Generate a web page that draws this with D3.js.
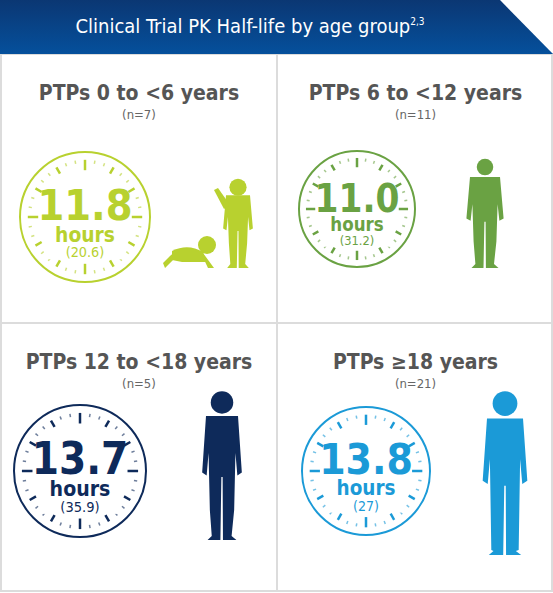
<!DOCTYPE html>
<html><head><meta charset="utf-8">
<script src="https://cdn.jsdelivr.net/npm/d3@7"></script>
<style>body{margin:0;background:#fff} text{font-stretch:condensed}</style>
</head><body>
<svg id="chart" width="553" height="593"></svg>
<script>
const groups = ["PTPs 0 to <6 years", "PTPs 6 to <12 years", "PTPs 12 to <18 years", "PTPs ≥18 years"];
const counts = [7, 11, 5, 21];
const halfLife = ["11.8", "11.0", "13.7", "13.8"];
const cv = ["20.6", "31.2", "35.9", "27"];
const colors = ["#b8d12f", "#6aa243", "#0e2a5a", "#1b9ad7"];
const font = "'DejaVu Sans', sans-serif";

const svg = d3.select("#chart");
const defs = svg.append("defs");
const grad = defs.append("linearGradient").attr("id", "hdr").attr("x1", 0).attr("y1", 0).attr("x2", 0).attr("y2", 1);
grad.append("stop").attr("offset", 0).attr("stop-color", "#0b3773");
grad.append("stop").attr("offset", 1).attr("stop-color", "#05509c");

// panel grid
const col = d3.scaleBand().domain([0, 1]).range([0, 553]);
const row = d3.scaleBand().domain([0, 1]).range([54, 592]);
svg.append("rect").attr("x", 1).attr("y", 54).attr("width", 551).attr("height", 537)
  .attr("fill", "none").attr("stroke", "#dcdcdc").attr("stroke-width", 2);
svg.append("line").attr("x1", 277).attr("x2", 277).attr("y1", 54).attr("y2", 591).attr("stroke", "#dcdcdc").attr("stroke-width", 2);
svg.append("line").attr("x1", 0).attr("x2", 553).attr("y1", 323).attr("y2", 323).attr("stroke", "#dcdcdc").attr("stroke-width", 2);

// header
svg.append("path").attr("d", "M0,0 H500 L553,54 H0 Z").attr("fill", "url(#hdr)");
const ht = svg.append("text").attr("x", 250).attr("y", 33).attr("text-anchor", "middle")
  .attr("fill", "#fff").style("font-family", font).style("font-size", "20px");
ht.append("tspan").text("Clinical Trial PK Half-life by age group");
ht.append("tspan").attr("dy", -8).style("font-size", "10px").text("2,3");

const clockPos = [[85, 217, 65], [357, 209, 58], [80, 471, 66], [366, 471, 64]];
const figures = [
  ["crawl", 212, 265], ["child", 485, 268], ["teen", 222, 540], ["adult", 505, 555]
];

// simple silhouette path built from body proportions
function person(x, base, h, w, shortsLen) {
  const head = h * 0.075, top = base - h;
  const p = d3.path();
  p.moveTo(x - w * 0.5, top + head * 2.3);
  p.lineTo(x + w * 0.5, top + head * 2.3);
  p.lineTo(x + w * 0.62, top + h * 0.55);
  p.lineTo(x + w * 0.48, top + h * 0.57);
  p.lineTo(x + w * 0.42, top + h * 0.42);
  p.lineTo(x + w * 0.38, top + h * shortsLen);
  p.lineTo(x + w * 0.3, base - 4);
  p.lineTo(x + w * 0.45, base);
  p.lineTo(x + w * 0.03, base);
  p.lineTo(x + w * 0.02, top + h * 0.58);
  p.lineTo(x - w * 0.02, top + h * 0.58);
  p.lineTo(x - w * 0.05, base);
  p.lineTo(x - w * 0.45, base);
  p.lineTo(x - w * 0.32, base - 4);
  p.lineTo(x - w * 0.38, top + h * shortsLen);
  p.lineTo(x - w * 0.42, top + h * 0.42);
  p.lineTo(x - w * 0.48, top + h * 0.57);
  p.lineTo(x - w * 0.62, top + h * 0.55);
  p.closePath();
  return { d: p.toString(), hx: x, hy: top + head * 1.1, hr: head };
}

groups.forEach((g, i) => {
  const cx0 = col(i % 2), cy0 = row(Math.floor(i / 2));
  const c = colors[i];
  const panel = svg.append("g");
  panel.append("text").attr("x", cx0 + 139).attr("y", cy0 + 46).attr("text-anchor", "middle")
    .attr("fill", "#555").style("font-family", font).style("font-weight", "bold").style("font-size", "21px").text(g);
  panel.append("text").attr("x", cx0 + 139).attr("y", cy0 + 65).attr("text-anchor", "middle")
    .attr("fill", "#666").style("font-family", font).style("font-size", "13px").text(`(n=${counts[i]})`);

  const [x, y, r] = clockPos[i];
  panel.append("circle").attr("cx", x).attr("cy", y).attr("r", r).attr("fill", "none").attr("stroke", c).attr("stroke-width", 2);
  const ticks = d3.range(36);
  panel.selectAll(".tick").data(ticks).join("line")
    .attr("x1", d => x + Math.sin(d * Math.PI / 18) * r * 0.88)
    .attr("y1", d => y - Math.cos(d * Math.PI / 18) * r * 0.88)
    .attr("x2", d => x + Math.sin(d * Math.PI / 18) * r * (d % 9 === 0 ? 0.72 : d % 3 === 0 ? 0.77 : 0.83))
    .attr("y2", d => y - Math.cos(d * Math.PI / 18) * r * (d % 9 === 0 ? 0.72 : d % 3 === 0 ? 0.77 : 0.83))
    .attr("stroke", c).attr("stroke-width", d => d % 3 === 0 ? 2.5 : 1.5).attr("opacity", d => d % 3 === 0 ? 1 : 0.6);
  panel.append("rect").attr("x", x - r * 0.6).attr("y", y - r * 0.55).attr("width", r * 1.2).attr("height", r * 1.2).attr("fill", "#fff");
  panel.append("text").attr("x", x).attr("y", y + r * 0.05).attr("text-anchor", "middle").attr("fill", c)
    .style("font-family", font).style("font-weight", "bold").style("font-size", (r * 0.66) + "px").text(halfLife[i]);
  panel.append("text").attr("x", x).attr("y", y + r * 0.38).attr("text-anchor", "middle").attr("fill", c)
    .style("font-family", font).style("font-weight", "bold").style("font-size", (r * 0.32) + "px").text("hours");
  panel.append("text").attr("x", x).attr("y", y + r * 0.62).attr("text-anchor", "middle").attr("fill", c)
    .style("font-family", font).style("font-size", (r * 0.22) + "px").text(`(${cv[i]})`);

  const [kind, fx, fb] = figures[i];
  if (kind === "crawl") {
    panel.append("circle").attr("cx", 207).attr("cy", 245).attr("r", 9).attr("fill", c);
    panel.append("path").attr("d", "M165,268 L180,253 L200,251 L208,268 L214,268 L203,253 L196,250 L178,249 L170,256 L163,263 Z").attr("fill", c);
    panel.append("path").attr("d", "M172,251 Q188,243 203,252 L206,262 L190,262 L182,262 L172,260 Z").attr("fill", c);
    const pr = person(238, 268, 88, 24, 0.72);
    panel.append("path").attr("d", pr.d).attr("fill", c);
    panel.append("circle").attr("cx", pr.hx).attr("cy", pr.hy).attr("r", pr.hr + 2).attr("fill", c);
    panel.append("path").attr("d", "M224,209 L214,190 L218,188 L230,205 Z").attr("fill", c);
  } else {
    const dims = { child: [110, 30, 0.76], teen: [150, 32, 0.8], adult: [165, 36, 0.97] }[kind];
    const pr = person(fx, fb, dims[0], dims[1], dims[2]);
    panel.append("path").attr("d", pr.d).attr("fill", c);
    panel.append("circle").attr("cx", pr.hx).attr("cy", pr.hy).attr("r", pr.hr).attr("fill", c);
  }
});
</script>
</body></html>
